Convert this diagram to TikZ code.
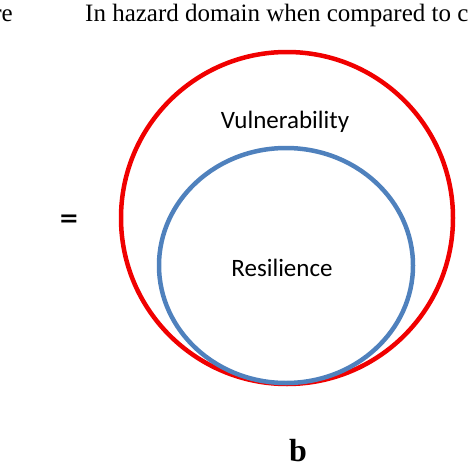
\documentclass[tikz,border=0pt]{standalone}
\usepackage{fontspec}
\setmainfont{Liberation Serif}
\newfontfamily\calibrifont{Carlito}
\newfontfamily\eqfont{DejaVu Serif}
\usetikzlibrary{shapes.geometric, positioning}
\definecolor{hazardred}{HTML}{F00000}
\definecolor{resblue}{HTML}{4F81BD}

\begin{document}
\begin{tikzpicture}[
    x=1pt, y=-1pt,
    ring/.style={
        draw,
        inner sep=0pt,
        line width=4.5pt
    },
    label/.style={
        font=\calibrifont\fontsize{25}{30}\selectfont,
        color=black
    },
    caption/.style={
        font=\fontsize{25}{30}\selectfont,
        anchor=base west
    }
]
\useasboundingbox (0,0) rectangle (474,474);
\clip (0,0) rectangle (474,474);

% Header text (cut at both sides)
\node[caption, anchor=base east, inner sep=0pt] (lefttext) at (13, 21) {re};
\node[caption, inner sep=0pt] (toptext) at (85, 21) {In hazard domain when compared to c};

% Equals sign
\node[font=\eqfont\bfseries\fontsize{24}{30}\selectfont] (eq) at (69, 221) {=};

% Vulnerability circle
\node[ring, circle, draw=hazardred, minimum size=332pt] (vul) at (287, 218) {};
\node[label] (vultext) at (285, 122) {Vulnerability};

% Resilience ellipse
\node[ring, ellipse, draw=resblue, minimum width=254pt, minimum height=235pt] (res) at (286, 265.5) {};
\node[label] (restext) at (282, 268) {Resilience};

% Panel letter
\node[font=\bfseries\fontsize{32}{36}\selectfont] (panel) at (298, 451) {b};

\end{tikzpicture}
\end{document}
